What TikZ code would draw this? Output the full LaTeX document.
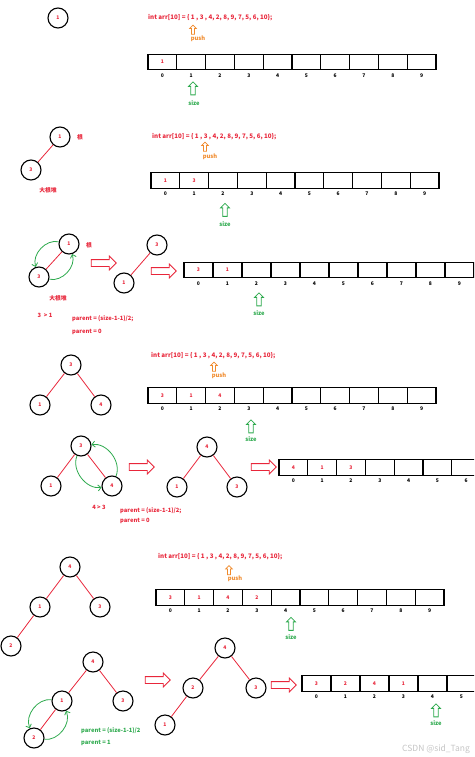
\documentclass[tikz,border=0pt]{standalone}
\usepackage{fontspec}
\setmainfont{Noto Sans CJK SC}
\usetikzlibrary{positioning,shapes.arrows,arrows.meta}
\definecolor{heapred}{HTML}{E8263A}
\definecolor{heapgreen}{HTML}{2EAA4E}
\definecolor{heaporange}{HTML}{F08A2C}
\definecolor{heapgray}{HTML}{C4C4C4}

\begin{document}
\begin{tikzpicture}[x=1pt, y=-1pt,
  vtx/.style={circle, draw, line width=1.1pt, minimum size=20pt, inner sep=0pt, font=\fontsize{5}{6}\selectfont\bfseries, text=heapred},
  edge/.style={heapred, line width=0.8pt},
  swap/.style={-{Straight Barb[length=3pt,width=6pt]}, heapgreen, line width=0.8pt, bend right=60},
  cell/.style={draw, line width=1.1pt, minimum width=28.8pt, minimum height=15.5pt, inner sep=0pt, font=\fontsize{5}{6}\selectfont\bfseries, text=heapred},
  idx/.style={font=\fontsize{5}{6}\selectfont\bfseries, inner sep=0pt},
  code/.style={font=\fontsize{6.2}{7}\selectfont\bfseries, text=heapred, anchor=west, inner sep=0pt},
  note/.style={font=\fontsize{5.8}{6}\selectfont\bfseries, text=heapred, inner sep=0pt},
  pushmark/.style={single arrow, draw=heaporange, fill=white, shape border rotate=90, minimum height=9pt, minimum width=6.5pt, inner sep=1.2pt, single arrow head extend=1.8pt, line width=0.7pt},
  sizemark/.style={single arrow, draw=heapgreen, fill=white, shape border rotate=90, minimum height=13pt, minimum width=9pt, inner sep=1.8pt, single arrow head extend=2.2pt, line width=0.8pt},
  pushtxt/.style={font=\fontsize{5.8}{6}\selectfont\bfseries, text=heaporange, inner sep=0pt},
  sizetxt/.style={font=\fontsize{5.8}{6}\selectfont\bfseries, text=heapgreen, inner sep=0pt},
  bigarrow/.style={single arrow, draw=heapred, fill=white, minimum height=25pt, minimum width=13pt, inner sep=3pt, single arrow head extend=3.5pt, line width=0.8pt}
]
  \useasboundingbox (0,0) rectangle (474,757);
  \clip (0,0) rectangle (474,757);

  % step 1: push 1
  \node[vtx] (s1a) at (58,18) {1};
  \node[code] (s1code) at (148,18) {int arr[10] = \{ 1 , 3 , 4, 2, 8, 9, 7, 5, 6, 10\};};
  \node[pushmark] (s1push) at (193,30.5) {};
  \node[pushtxt] (s1pt) at (198,39) {push};
  \foreach \v [count=\i from 0] in {1,{},{},{},{},{},{},{},{},{}} {
    \node[cell] (s1c\i) at ({162.4+28.8*\i},62) {\v};
    \node[idx, below=3pt of s1c\i] (s1i\i) {\i};
  }
  \node[sizemark] (s1size) at (193,89.5) {};
  \node[sizetxt] (s1st) at (194,103) {size};

  % step 2: push 3
  \node[vtx] (s2a) at (60,137) {1};
  \node[vtx] (s2b) at (31,170) {3};
  \draw[edge] (s2a) -- (s2b);
  \node[note] (s2root) at (80,137) {根};
  \node[note] (s2heap) at (48,190) {大根堆};
  \node[code] (s2code) at (152,137) {int arr[10] = \{ 1 , 3 , 4, 2, 8, 9, 7, 5, 6, 10\};};
  \node[pushmark] (s2push) at (205,147.5) {};
  \node[pushtxt] (s2pt) at (210,157) {push};
  \foreach \v [count=\i from 0] in {1,3,{},{},{},{},{},{},{},{}} {
    \node[cell] (s2c\i) at ({165.4+28.8*\i},180.5) {\v};
    \node[idx, below=3pt of s2c\i] (s2i\i) {\i};
  }
  \node[sizemark] (s2size) at (225,211) {};
  \node[sizetxt] (s2st) at (225,224) {size};

  % step 3: sift 3 up
  \node[vtx] (s3a) at (69,244) {1};
  \node[vtx] (s3b) at (39,277) {3};
  \draw[edge] (s3a) -- (s3b);
  \draw[swap] (s3a) to (s3b);
  \draw[swap] (s3b) to (s3a);
  \node[note] (s3root) at (89,245) {根};
  \node[note] (s3heap) at (58,298) {大根堆};
  \node[note] (s3cmp) at (45,315) {3 \ > 1};
  \node[note, anchor=west] (s3p1) at (72,319) {parent = (size-1-1)/2;};
  \node[note, anchor=west] (s3p2) at (72,332) {parent = 0};
  \node[bigarrow] (s3go1) at (102,263) {};
  \node[vtx] (s3c) at (157,245) {3};
  \node[vtx] (s3d) at (124,283) {1};
  \draw[edge] (s3c) -- (s3d);
  \node[bigarrow] (s3go2) at (162,271) {};
  \foreach \v [count=\i from 0] in {3,1,{},{},{},{},{},{},{},{}} {
    \node[cell, minimum width=29pt] (s3c\i) at ({198.5+29*\i},270) {\v};
    \node[idx, below=3pt of s3c\i] (s3i\i) {\i};
  }
  \node[sizemark] (s3size) at (259,300.5) {};
  \node[sizetxt] (s3st) at (259,313) {size};

  % step 4: push 4
  \node[vtx] (s4a) at (71,365) {3};
  \node[vtx] (s4b) at (40,405) {1};
  \node[vtx] (s4c) at (101,405) {4};
  \draw[edge] (s4a) -- (s4b);
  \draw[edge] (s4a) -- (s4c);
  \node[code] (s4code) at (151,356) {int arr[10] = \{ 1 , 3 , 4, 2, 8, 9, 7, 5, 6, 10\};};
  \node[pushmark] (s4push) at (214,367.5) {};
  \node[pushtxt] (s4pt) at (219,376) {push};
  \foreach \v [count=\i from 0] in {3,1,4,{},{},{},{},{},{},{}} {
    \node[cell] (s4c\i) at ({162.4+28.8*\i},395.5) {\v};
    \node[idx, below=3pt of s4c\i] (s4i\i) {\i};
  }
  \node[sizemark] (s4size) at (251,427.5) {};
  \node[sizetxt] (s4st) at (251,439) {size};

  % step 5: sift 4 up
  \node[vtx] (s5a) at (81,446) {3};
  \node[vtx] (s5b) at (51,486) {1};
  \node[vtx] (s5c) at (112,486) {4};
  \draw[edge] (s5a) -- (s5b);
  \draw[edge] (s5a) -- (s5c);
  \draw[swap] (s5a) to (s5c);
  \draw[swap] (s5c) to (s5a);
  \node[note] (s5cmp) at (99,507) {4 > 3};
  \node[note, anchor=west] (s5p1) at (120,511) {parent = (size-1-1)/2;};
  \node[note, anchor=west] (s5p2) at (120,521) {parent = 0};
  \node[bigarrow] (s5go1) at (140,467) {};
  \node[vtx] (s5d) at (207,447) {4};
  \node[vtx] (s5e) at (177,487) {1};
  \node[vtx] (s5f) at (237,487) {3};
  \draw[edge] (s5d) -- (s5e);
  \draw[edge] (s5d) -- (s5f);
  \node[bigarrow] (s5go2) at (262,467) {};
  \foreach \v [count=\i from 0] in {4,1,3,{},{},{},{}} {
    \node[cell] (s5c\i) at ({293.4+28.8*\i},467.5) {\v};
    \node[idx, below=3pt of s5c\i] (s5i\i) {\i};
  }

  % step 6: push 2
  \node[vtx] (s6a) at (70,567) {4};
  \node[vtx] (s6b) at (40,607) {1};
  \node[vtx] (s6c) at (100,607) {3};
  \node[vtx] (s6d) at (11,646) {2};
  \draw[edge] (s6a) -- (s6b);
  \draw[edge] (s6a) -- (s6c);
  \draw[edge] (s6b) -- (s6d);
  \node[code] (s6code) at (158,557) {int arr[10] = \{ 1 , 3 , 4, 2, 8, 9, 7, 5, 6, 10\};};
  \node[pushmark] (s6push) at (229,571) {};
  \node[pushtxt] (s6pt) at (235,579) {push};
  \foreach \v [count=\i from 0] in {3,1,4,2,{},{},{},{},{},{}} {
    \node[cell] (s6c\i) at ({170.4+28.8*\i},597.5) {\v};
    \node[idx, below=3pt of s6c\i] (s6i\i) {\i};
  }
  \node[sizemark] (s6size) at (291,625) {};
  \node[sizetxt] (s6st) at (291,637) {size};

  % step 7: sift 2 up
  \node[vtx] (s7a) at (93,662) {4};
  \node[vtx] (s7b) at (62,701) {1};
  \node[vtx] (s7c) at (123,701) {3};
  \node[vtx] (s7d) at (34,738) {2};
  \draw[edge] (s7a) -- (s7b);
  \draw[edge] (s7a) -- (s7c);
  \draw[edge] (s7b) -- (s7d);
  \draw[swap] (s7b) to (s7d);
  \draw[swap] (s7d) to (s7b);
  \node[note, text=heapgreen, anchor=west] (s7p1) at (81,731) {parent = (size-1-1)/2};
  \node[note, text=heapgreen, anchor=west] (s7p2) at (81,743) {parent = 1};
  \node[bigarrow] (s7go1) at (156,680) {};
  \node[vtx] (s7e) at (225,648) {4};
  \node[vtx] (s7f) at (193,688) {2};
  \node[vtx] (s7g) at (256,688) {3};
  \node[vtx] (s7h) at (165,725) {1};
  \draw[edge] (s7e) -- (s7f);
  \draw[edge] (s7e) -- (s7g);
  \draw[edge] (s7f) -- (s7h);
  \node[bigarrow] (s7go2) at (282,685) {};
  \foreach \v [count=\i from 0] in {3,2,4,1,{},{}} {
    \node[cell, minimum width=29pt] (s7c\i) at ({316.5+29*\i},683.5) {\v};
    \node[idx, below=3pt of s7c\i] (s7i\i) {\i};
  }
  \node[sizemark] (s7size) at (436,711.5) {};
  \node[sizetxt] (s7st) at (436,723) {size};

  \node[font=\fontsize{8.5}{9}\selectfont, text=heapgray, anchor=west, inner sep=0pt] (mark) at (402,749) {CSDN @sid\_Tang};
\end{tikzpicture}
\end{document}
